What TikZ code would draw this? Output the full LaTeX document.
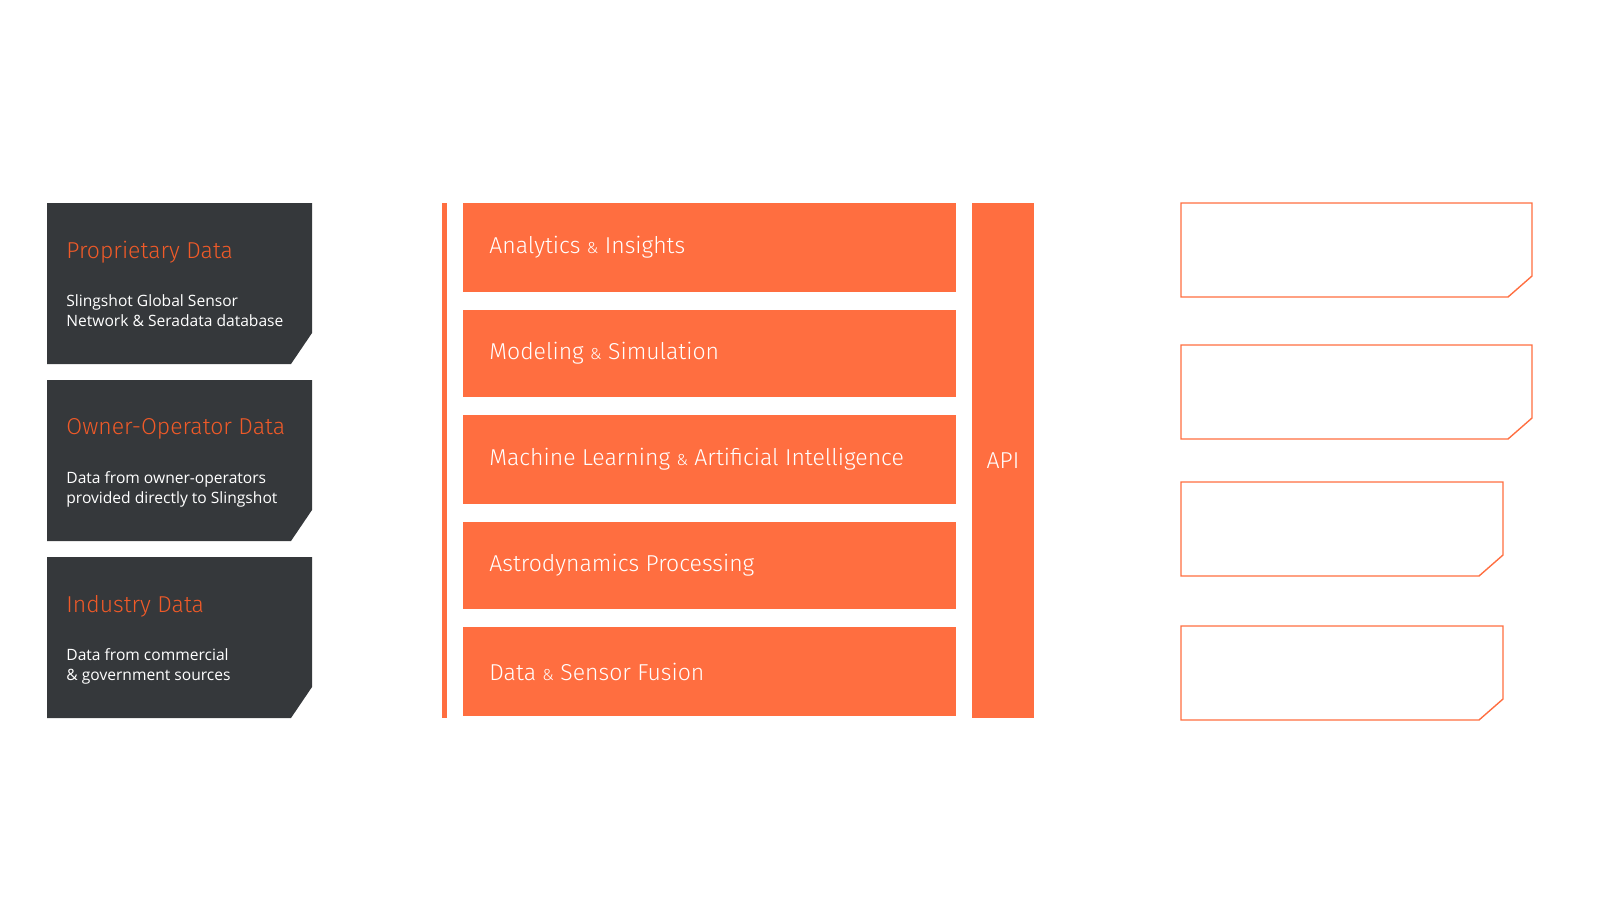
\documentclass[tikz,border=0pt]{standalone}
\usepackage{fontspec}
\setmainfont{Open Sans}
\newfontfamily\headfont{Fira Sans Light}
\usepackage{tikz}
\usetikzlibrary{positioning}
\definecolor{slate}{HTML}{35383B}
\definecolor{flame}{HTML}{FF6E40}
\definecolor{rust}{HTML}{F05A28}
\tikzset{
  title/.style={anchor=west, text=rust, font=\headfont\fontsize{11.5}{13}\selectfont, inner sep=0pt},
  desc/.style={anchor=north west, text=white, font=\fontsize{7.8}{10}\selectfont, align=left, inner sep=0pt},
  layer/.style={anchor=west, text=white, font=\headfont\fontsize{11.5}{13}\selectfont, inner sep=0pt},
  tile/.style={fill=slate},
  slab/.style={fill=flame},
  frame/.style={draw=flame, line width=0.7pt, fill=white}
}
\newcommand{\amp}{{\fontsize{8}{10}\selectfont\&}}
\begin{document}
\begin{tikzpicture}[x=0.5pt,y=-0.5pt]
\useasboundingbox (0,0) rectangle (1600,912);
% source tiles
\foreach \t/\name/\line in {203/Proprietary Data/{Slingshot Global Sensor\\Network \& Seradata database},
                            380/Owner-Operator Data/{Data from owner-operators\\provided directly to Slingshot},
                            557/Industry Data/{Data from commercial\\\& government sources}} {
  \fill[tile] (47,\t) -- (312,\t) -- (312,\t+130) -- (291,\t+161) -- (47,\t+161) -- cycle;
  \node[title] (src\t) at (66,\t+49) {\name};
  \node[desc] (txt\t) at (66,\t+91) {\line};
}
% platform layers
\fill[slab] (442,203) rectangle (447,718);
\foreach \a/\b/\lbl in {203/292/{Analytics \amp{} Insights},
                        310/397/{Modeling \amp{} Simulation},
                        415/504/{Machine Learning \amp{} Artificial Intelligence},
                        522/609/{Astrodynamics Processing},
                        627/716/{Data \amp{} Sensor Fusion}} {
  \fill[slab] (463,\a) rectangle (956,\b);
  \node[layer] (lay\a) at (489,{(\a+\b)/2}) {\lbl};
}
\fill[slab] (972,203) rectangle (1034,718);
\node[layer, anchor=center] (api) at (1003,461) {API};
% output frames
\foreach \t/\r in {203/1532, 345/1532, 482/1503, 626/1503} {
  \draw[frame] (1181,\t) -- (\r,\t) -- (\r,\t+73) -- (\r-24,\t+94) -- (1181,\t+94) -- cycle;
}
\end{tikzpicture}
\end{document}
